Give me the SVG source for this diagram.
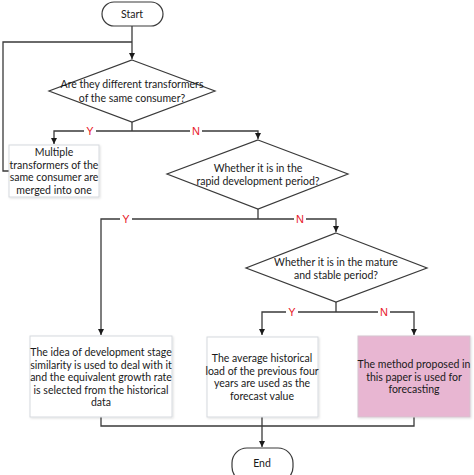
<svg xmlns="http://www.w3.org/2000/svg" width="474" height="475" viewBox="0 0 474 475">
<defs>
<style>
.ln{fill:none;stroke:#3a3a3a;stroke-width:1.3}
.dia{fill:#fff;stroke:#3a3a3a;stroke-width:1.2}
.term{fill:#fff;stroke:#3a3a3a;stroke-width:1.2}
.box{fill:#fff;stroke:#d6d9de;stroke-width:1}
.pink{fill:#e8b6d2;stroke:#d6c4cf;stroke-width:1}
.t{font-family:Lato,"Liberation Sans",sans-serif;font-size:10.5px;fill:#1a1a1a;text-anchor:middle}
.lab{font-family:"Liberation Sans",Arial,sans-serif;font-size:11px;fill:#e8202a;text-anchor:middle}
</style>
<marker id="ah" viewBox="0 0 10 10" refX="10" refY="5" markerWidth="6" markerHeight="6" orient="auto" markerUnits="userSpaceOnUse">
<path d="M0,0 L10,5 L0,10 z" fill="#1a1a1a"/>
</marker>
<filter id="sh" x="-10%" y="-10%" width="120%" height="120%">
<feDropShadow dx="1" dy="1" stdDeviation="1" flood-color="#000" flood-opacity="0.12"/>
</filter>
</defs>
<g id="connectors">
<path class="ln" d="M132,26 V59" marker-end="url(#ah)"/>
<path class="ln" d="M9,171 H3 V42 H132"/>
<path class="ln" d="M132,122 V131"/>
<path class="ln" d="M132,131 H54 V144" marker-end="url(#ah)"/>
<path class="ln" d="M132,131 H258 V139" marker-end="url(#ah)"/>
<path class="ln" d="M258,209 V219"/>
<path class="ln" d="M258,219 H101 V335" marker-end="url(#ah)"/>
<path class="ln" d="M258,219 H336 V232" marker-end="url(#ah)"/>
<path class="ln" d="M336,302 V312"/>
<path class="ln" d="M336,312 H262 V335" marker-end="url(#ah)"/>
<path class="ln" d="M336,312 H414 V335" marker-end="url(#ah)"/>
<path class="ln" d="M101,417 V426 H414 V417"/>
<path class="ln" d="M262,417 V447" marker-end="url(#ah)"/>
<rect x="84" y="124" width="12" height="13" fill="#fff"/>
<text class="lab" x="90" y="135">Y</text>
<rect x="190" y="124" width="12" height="13" fill="#fff"/>
<text class="lab" x="196" y="135">N</text>
<rect x="120" y="212" width="12" height="13" fill="#fff"/>
<text class="lab" x="126" y="223">Y</text>
<rect x="294" y="212" width="12" height="13" fill="#fff"/>
<text class="lab" x="300" y="223">N</text>
<rect x="286" y="305" width="12" height="13" fill="#fff"/>
<text class="lab" x="292" y="316">Y</text>
<rect x="378" y="305" width="12" height="13" fill="#fff"/>
<text class="lab" x="384" y="316">N</text>
</g>
<g id="start">
<rect class="term" x="102" y="2" width="61" height="24" rx="12" ry="12"/>
<text class="t" x="132" y="18">Start</text>
</g>
<g id="decision1">
<polygon class="dia" points="132,60 215,91 132,122 49,91"/>
<text class="t" x="132" y="88">Are they different transformers</text>
<text class="t" x="132" y="102">of the same consumer?</text>
</g>
<g id="merge">
<rect class="box" x="9" y="145" width="90" height="52" filter="url(#sh)"/>
<text class="t" x="54" y="156">Multiple</text>
<text class="t" x="54" y="168.5">transformers of the</text>
<text class="t" x="54" y="181">same consumer are</text>
<text class="t" x="54" y="193.5">merged into one</text>
</g>
<g id="decision2">
<polygon class="dia" points="258,140 348,174 258,209 167,174"/>
<text class="t" x="258" y="172">Whether it is in the</text>
<text class="t" x="258" y="185">rapid development period?</text>
</g>
<g id="decision3">
<polygon class="dia" points="336,233 427,268 336,302 246,268"/>
<text class="t" x="336" y="266">Whether it is in the mature</text>
<text class="t" x="336" y="279">and stable period?</text>
</g>
<g id="similarity">
<rect class="box" x="30" y="336" width="142" height="81" filter="url(#sh)"/>
<text class="t" x="101" y="356">The idea of development stage</text>
<text class="t" x="101" y="368.5">similarity is used to deal with it</text>
<text class="t" x="101" y="381">and the equivalent growth rate</text>
<text class="t" x="101" y="393.5">is selected from the historical</text>
<text class="t" x="101" y="406">data</text>
</g>
<g id="average">
<rect class="box" x="207" y="337" width="111" height="80" filter="url(#sh)"/>
<text class="t" x="262" y="362">The average historical</text>
<text class="t" x="262" y="374.5">load of the previous four</text>
<text class="t" x="262" y="387">years are used as the</text>
<text class="t" x="262" y="399.5">forecast value</text>
</g>
<g id="proposed">
<rect class="pink" x="358" y="336" width="112" height="81" filter="url(#sh)"/>
<text class="t" x="414" y="368">The method proposed in</text>
<text class="t" x="414" y="380.5">this paper is used for</text>
<text class="t" x="414" y="393">forecasting</text>
</g>
<g id="end">
<rect class="term" x="232" y="448" width="61" height="34" rx="15" ry="15"/>
<text class="t" x="262" y="467">End</text>
</g>
</svg>
